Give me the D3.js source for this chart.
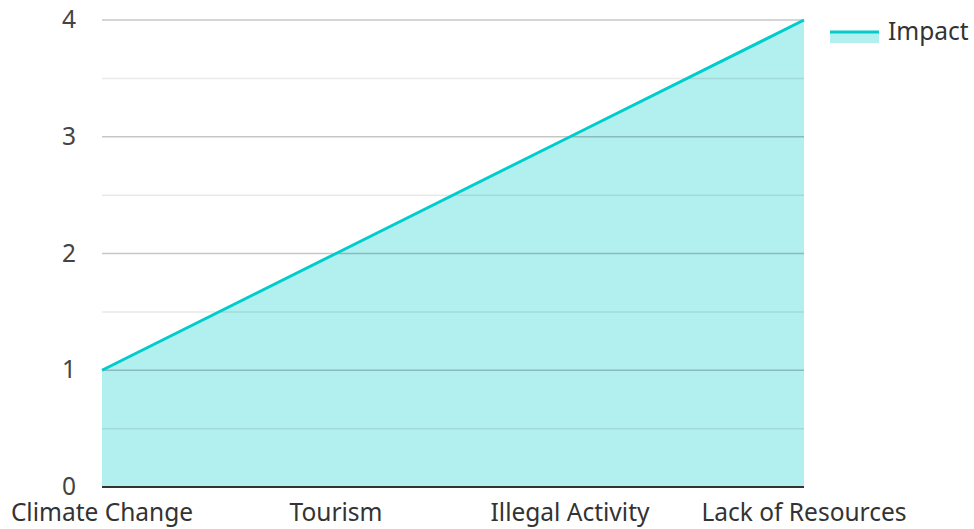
<!DOCTYPE html>
<html><head><meta charset="utf-8">
<script src="https://cdn.jsdelivr.net/npm/d3@7"></script>
<style>body{margin:0;background:#fff}svg{display:block}text{font-family:"Noto Sans",sans-serif}</style>
</head><body><svg id="c" width="974" height="529"></svg>
<script>
const categories = ["Climate Change","Tourism","Illegal Activity","Lack of Resources"];
const impact = [1,2,3,4];
const yTicks = [0,1,2,3,4];
const yMinor = [0.5,1.5,2.5,3.5];
const seriesName = "Impact";

const svg = d3.select("#c");
const x = d3.scalePoint().domain(categories).range([102,804]);
const y = d3.scaleLinear().domain([0,4]).range([487,20]);
const data = categories.map((c,i)=>({c, v: impact[i]}));
const FS = 24.5;

svg.append("path").datum(data)
  .attr("d", d3.area().x(d=>x(d.c)).y0(y(0)).y1(d=>y(d.v)))
  .attr("fill","#b2efef");

const grid = svg.append("g");
grid.selectAll("line.minor").data(yMinor).join("line").attr("class","minor")
  .attr("x1",102).attr("x2",804).attr("y1",d=>y(d)).attr("y2",d=>y(d))
  .attr("stroke","#000").attr("stroke-opacity",0.09).attr("stroke-width",1.5);
grid.selectAll("line.major").data(yTicks.filter(d=>d>0)).join("line").attr("class","major")
  .attr("x1",102).attr("x2",804).attr("y1",d=>y(d)).attr("y2",d=>y(d))
  .attr("stroke","#000").attr("stroke-opacity",0.22).attr("stroke-width",1.5);

svg.append("path").datum(data)
  .attr("d", d3.line().x(d=>x(d.c)).y(d=>y(d.v)))
  .attr("fill","none").attr("stroke","#00cccc").attr("stroke-width",3);

svg.append("line").attr("x1",102).attr("x2",804).attr("y1",y(0)).attr("y2",y(0))
  .attr("stroke","#333").attr("stroke-width",2);

svg.selectAll("text.yl").data(yTicks).join("text").attr("class","yl")
  .attr("x",76).attr("y",d=>y(d)+8).attr("text-anchor","end")
  .attr("font-size",FS).attr("fill","#444").text(d=>d);

svg.selectAll("text.xl").data(categories).join("text").attr("class","xl")
  .attr("x",d=>x(d)).attr("y",521).attr("text-anchor","middle")
  .attr("font-size",FS).attr("fill","#333").text(d=>d);

const lg = svg.append("g");
lg.append("rect").attr("x",830).attr("y",33).attr("width",49).attr("height",10).attr("fill","#b2efef");
lg.append("line").attr("x1",830).attr("x2",879).attr("y1",32).attr("y2",32).attr("stroke","#00cccc").attr("stroke-width",3);
lg.append("text").attr("x",888).attr("y",40).attr("font-size",FS).attr("fill","#333").text(seriesName);
</script></body></html>
